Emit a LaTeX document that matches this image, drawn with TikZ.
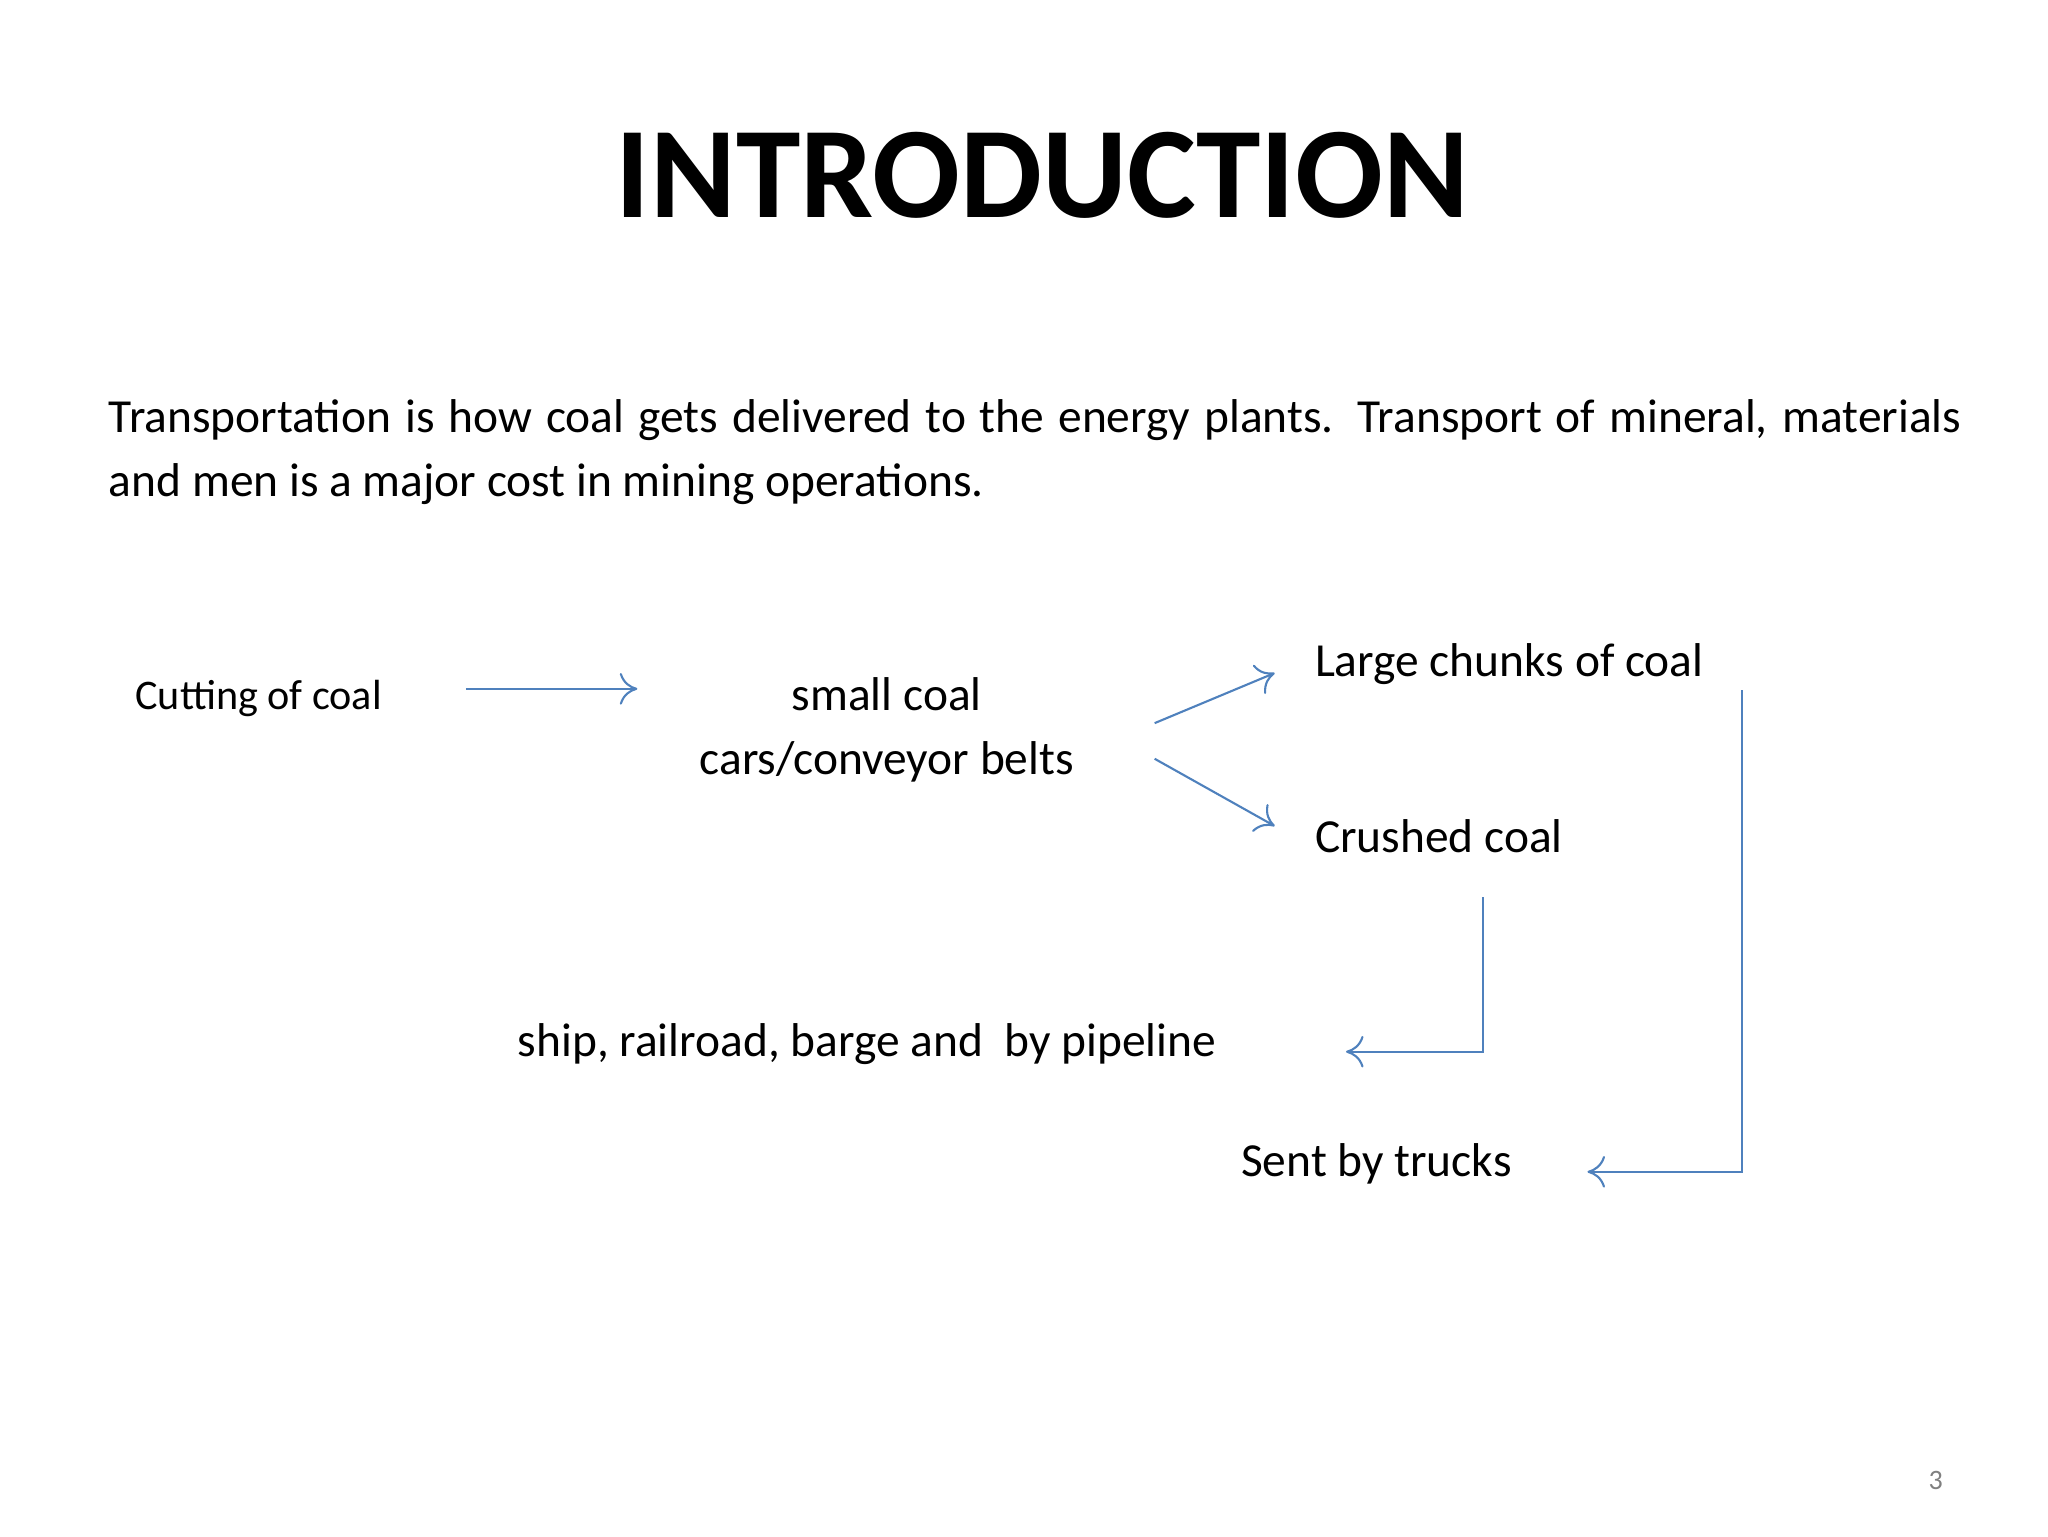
\documentclass[tikz,border=0pt]{standalone}
\usepackage{fontspec}
\setmainfont{Carlito}
\usetikzlibrary{arrows.meta}
\definecolor{ablue}{RGB}{79,129,189}
\begin{document}
\begin{tikzpicture}[x=0.013196cm,y=-0.013196cm,
  lbl/.style={inner sep=0pt,font=\fontsize{13.5}{16}\selectfont},
  arr/.style={draw=ablue,line width=0.6pt,-{To[length=5pt,width=9pt]}},
  ln/.style={draw=ablue,line width=0.6pt}]
\useasboundingbox (0,0) rectangle (1552,1164);
\node[inner sep=0pt,font=\fontsize{37}{40}\selectfont\bfseries] (title) at (790,133) {INTRODUCTION};
\node[anchor=north west,inner sep=0pt,text width=18.53cm,align=justify,font=\fontsize{13.5}{18.3}\selectfont] (para) at (82,302)
 {Transportation is how coal gets delivered to the energy plants. Transport of mineral, materials and men is a major cost in mining operations.};
\node[lbl,font=\fontsize{12}{14}\selectfont] (cut) at (196,529) {Cutting of coal};
\node[lbl,align=center,font=\fontsize{13.5}{18.3}\selectfont] (small) at (672,553) {small coal\\cars/conveyor belts};
\node[lbl,anchor=west] (large) at (996,503) {Large chunks of coal};
\node[lbl,anchor=west] (crush) at (996,634) {Crushed coal};
\node[lbl] (ship) at (657,791) {ship, railroad, barge and\ \ by pipeline};
\node[lbl,anchor=west] (truck) at (940,882) {Sent by trucks};
\node[inner sep=0pt,text=gray,font=\fontsize{8}{10}\selectfont] (pg) at (1467,1122) {3};
\coordinate (a1) at (353,522); \coordinate (a2) at (483,522);
\coordinate (b1) at (875,548); \coordinate (b2) at (966,510);
\coordinate (c1) at (875,575); \coordinate (c2) at (966,626);
\coordinate (d1) at (1124,680); \coordinate (d2) at (1124,797); \coordinate (d3) at (1020,797);
\coordinate (e1) at (1320,523); \coordinate (e2) at (1320,888); \coordinate (e3) at (1203,888);
\draw[arr] (a1) -- (a2);
\draw[arr] (b1) -- (b2);
\draw[arr] (c1) -- (c2);
\draw[arr] (d1) -- (d2) -- (d3);
\draw[arr] (e1) -- (e2) -- (e3);
\end{tikzpicture}
\end{document}
